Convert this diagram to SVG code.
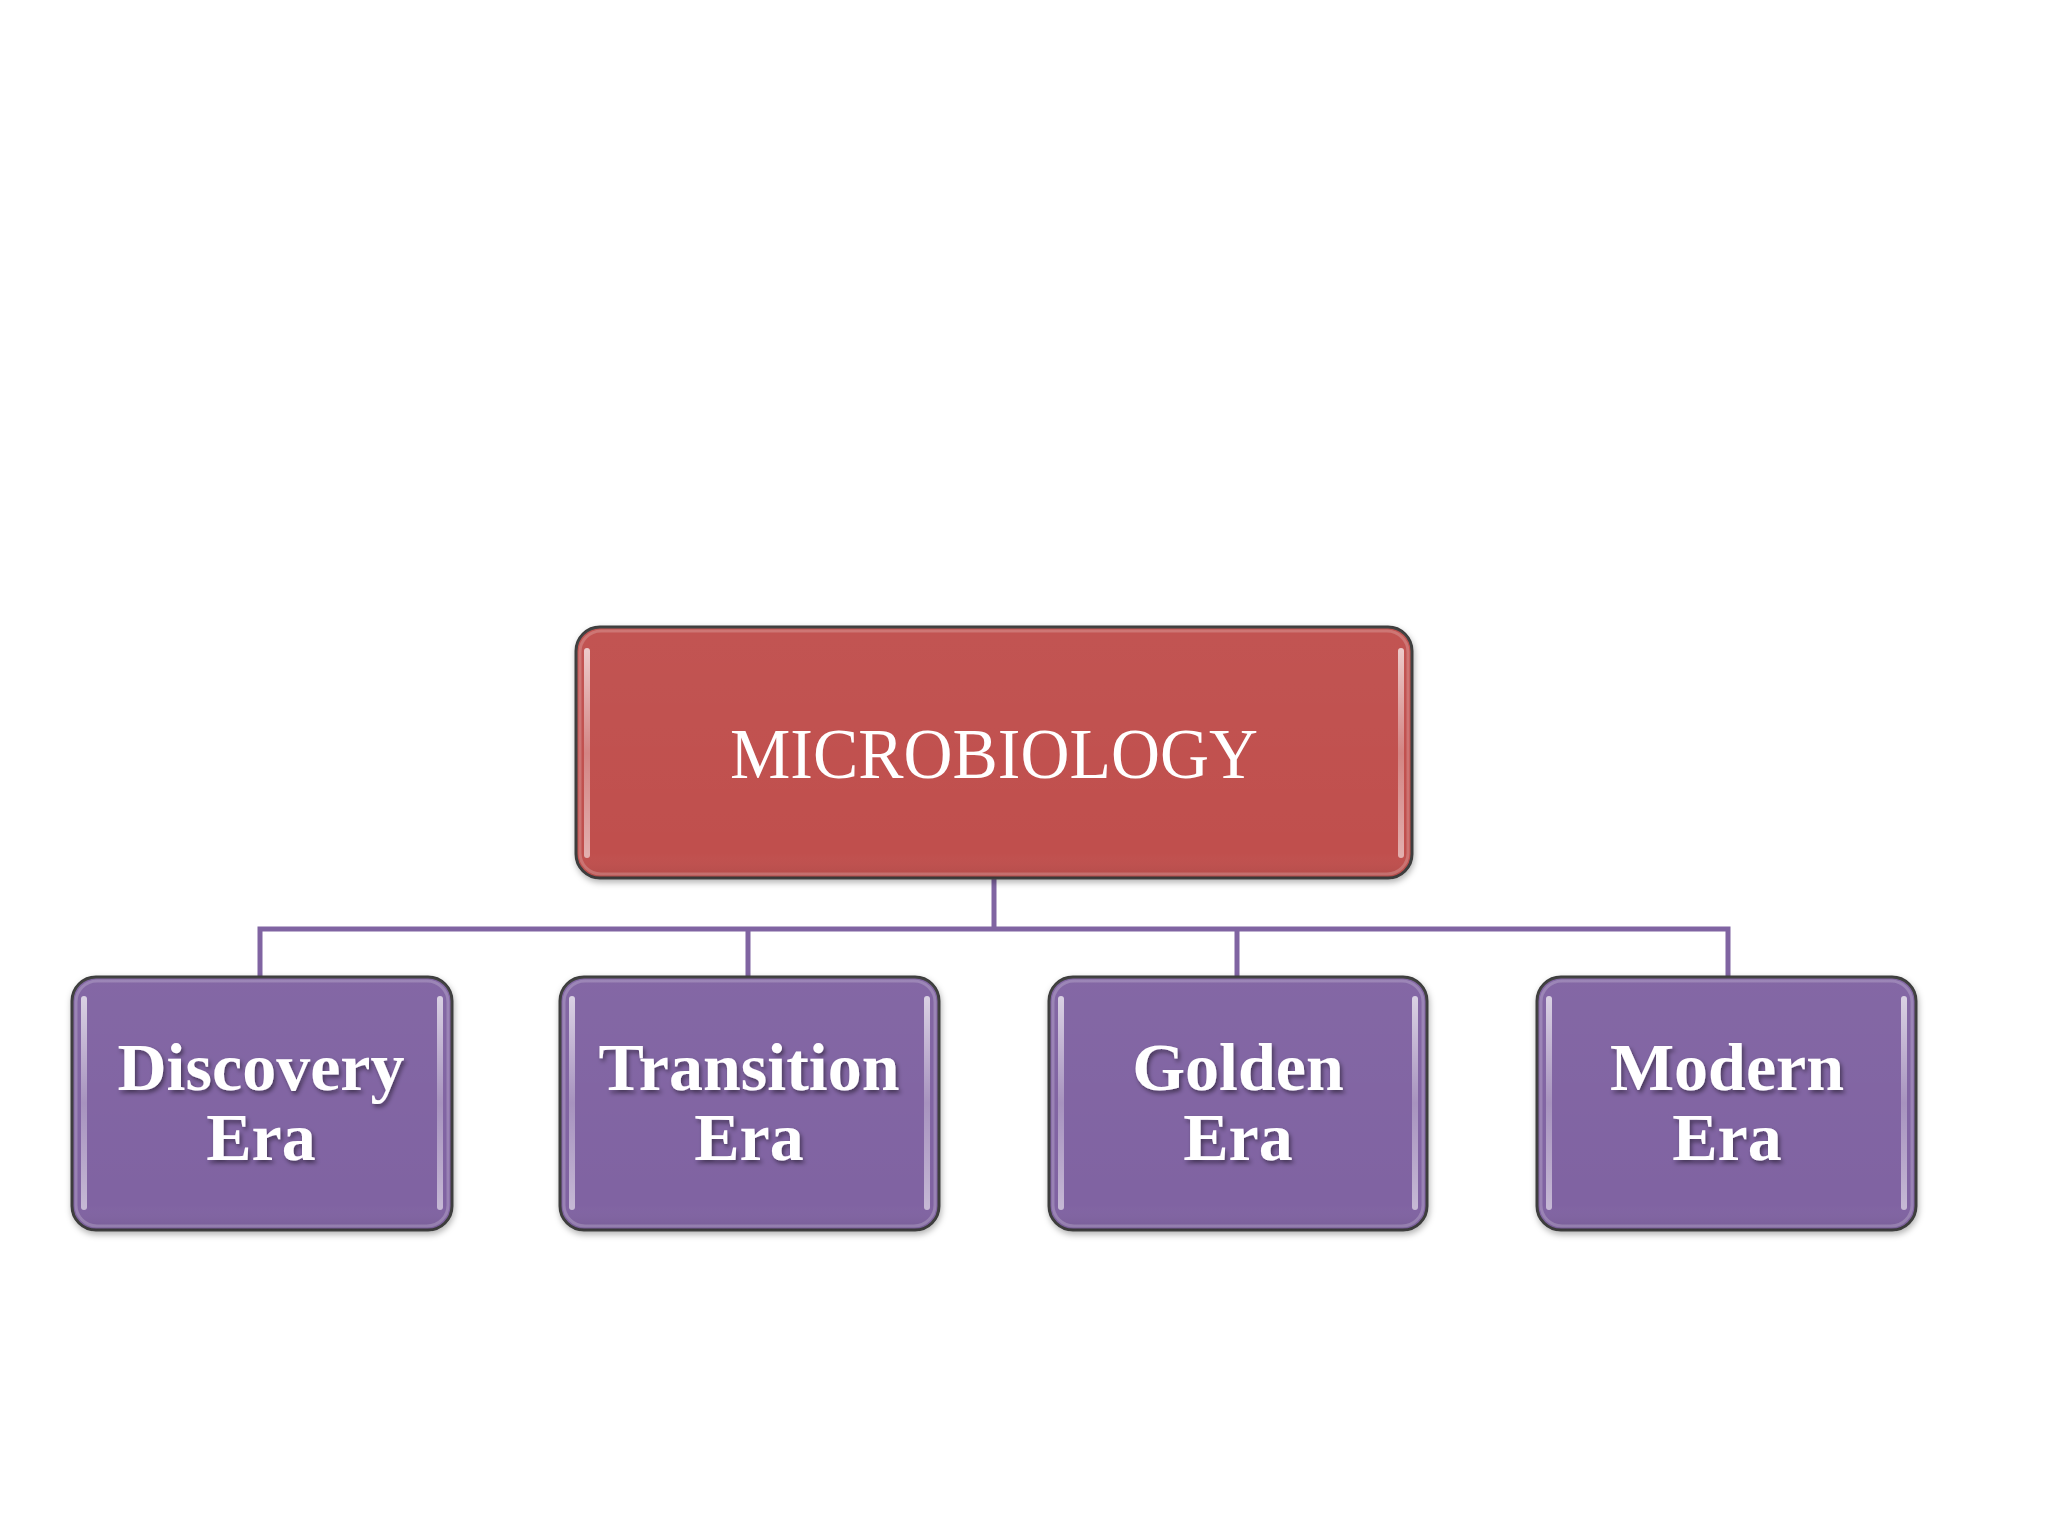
<svg xmlns="http://www.w3.org/2000/svg" width="2048" height="1536" viewBox="0 0 2048 1536">
<defs>
<style>
.box{stroke:#3c3c3c;stroke-width:3}
.red{fill:#c0504d}
.pur{fill:#8064a2}
.rim{fill:none;stroke:#ffffff;stroke-opacity:0.2;stroke-width:3}
.strip{fill:url(#stripG)}
.t1{font-family:"Liberation Serif","Times New Roman",serif;font-size:72px;fill:#ffffff;text-anchor:middle}
.t2{font-family:"Liberation Serif","Times New Roman",serif;font-size:68px;font-weight:bold;fill:#ffffff;text-anchor:middle;filter:url(#ts)}
.con{fill:none;stroke:#8064a2;stroke-width:5}
</style>
<linearGradient id="stripG" x1="0" y1="0" x2="0" y2="1">
<stop offset="0" stop-color="#ffffff" stop-opacity="0.7"/>
<stop offset="0.5" stop-color="#ffffff" stop-opacity="0.3"/>
<stop offset="1" stop-color="#ffffff" stop-opacity="0.55"/>
</linearGradient>
<linearGradient id="shade" x1="0" y1="0" x2="0" y2="1">
<stop offset="0" stop-color="#ffffff" stop-opacity="0.03"/>
<stop offset="0.9" stop-color="#ffffff" stop-opacity="0"/>
<stop offset="1" stop-color="#000000" stop-opacity="0.08"/>
</linearGradient>
<filter id="bs" x="-5%" y="-5%" width="110%" height="115%">
<feDropShadow dx="1" dy="3" stdDeviation="3" flood-color="#000000" flood-opacity="0.3"/>
</filter>
<filter id="ts" x="-5%" y="-10%" width="110%" height="130%">
<feDropShadow dx="2" dy="3" stdDeviation="2" flood-color="#000000" flood-opacity="0.45"/>
</filter>
</defs>
<rect width="2048" height="1536" fill="#ffffff"/>
<g id="connectors">
<path class="con" d="M994 878 V929 M260 977 V929 H1728 V977 M748 929 V977 M1237 929 V977"/>
</g>
<g id="node-microbiology">
<rect class="box red" x="576" y="627" width="836" height="251" rx="24" filter="url(#bs)"/>
<rect x="576" y="627" width="836" height="251" rx="24" fill="url(#shade)"/>
<rect class="rim" x="580" y="631" width="828" height="243" rx="21"/>
<rect class="strip" x="584" y="648" width="6" height="210" rx="3"/>
<rect class="strip" x="1398" y="648" width="6" height="210" rx="3"/>
<text class="t1" x="994" y="778" textLength="528" lengthAdjust="spacingAndGlyphs">MICROBIOLOGY</text>
</g>
<g id="node-discovery">
<rect class="box pur" x="72" y="977" width="380" height="253" rx="24" filter="url(#bs)"/>
<rect x="72" y="977" width="380" height="253" rx="24" fill="url(#shade)"/>
<rect class="rim" x="76" y="981" width="372" height="245" rx="21"/>
<rect class="strip" x="81" y="996" width="6" height="214" rx="3"/>
<rect class="strip" x="437" y="996" width="6" height="214" rx="3"/>
<text class="t2" x="261" y="1090">Discovery</text>
<text class="t2" x="261" y="1160">Era</text>
</g>
<g id="node-transition">
<rect class="box pur" x="560" y="977" width="379" height="253" rx="24" filter="url(#bs)"/>
<rect x="560" y="977" width="379" height="253" rx="24" fill="url(#shade)"/>
<rect class="rim" x="564" y="981" width="371" height="245" rx="21"/>
<rect class="strip" x="569" y="996" width="6" height="214" rx="3"/>
<rect class="strip" x="924" y="996" width="6" height="214" rx="3"/>
<text class="t2" x="749" y="1090">Transition</text>
<text class="t2" x="749" y="1160">Era</text>
</g>
<g id="node-golden">
<rect class="box pur" x="1049" y="977" width="378" height="253" rx="24" filter="url(#bs)"/>
<rect x="1049" y="977" width="378" height="253" rx="24" fill="url(#shade)"/>
<rect class="rim" x="1053" y="981" width="370" height="245" rx="21"/>
<rect class="strip" x="1058" y="996" width="6" height="214" rx="3"/>
<rect class="strip" x="1412" y="996" width="6" height="214" rx="3"/>
<text class="t2" x="1238" y="1090">Golden</text>
<text class="t2" x="1238" y="1160">Era</text>
</g>
<g id="node-modern">
<rect class="box pur" x="1537" y="977" width="379" height="253" rx="24" filter="url(#bs)"/>
<rect x="1537" y="977" width="379" height="253" rx="24" fill="url(#shade)"/>
<rect class="rim" x="1541" y="981" width="371" height="245" rx="21"/>
<rect class="strip" x="1546" y="996" width="6" height="214" rx="3"/>
<rect class="strip" x="1901" y="996" width="6" height="214" rx="3"/>
<text class="t2" x="1727" y="1090">Modern</text>
<text class="t2" x="1727" y="1160">Era</text>
</g>
</svg>
